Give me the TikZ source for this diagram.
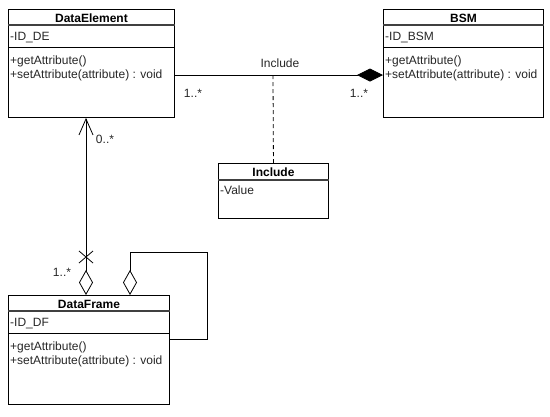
\documentclass[tikz,border=0pt]{standalone}
\usepackage{fontspec}
\setmainfont{Liberation Sans}
\usetikzlibrary{arrows.meta,calc}
\tikzset{odiam/.tip={Diamond[open,length=25pt,width=14pt]},
  fdiam/.tip={Diamond[length=26pt,width=13pt,fill=black]},
  obarb/.tip={Straight Barb[length=16pt,width=14pt]}}
\begin{document}
\begin{tikzpicture}[x=1pt,y=-1pt,
  every node/.style={font=\fontsize{12}{14}\selectfont, inner sep=0pt, text=black!85},
  classbox/.style={draw, line width=0.9pt, anchor=north west},
  ttl/.style={font=\fontsize{12}{14}\selectfont\bfseries, anchor=base, text=black},
  txt/.style={anchor=base west},
  sepa/.style={line width=1.5pt, black!75},
  sepb/.style={line width=0.8pt},
  conn/.style={line width=0.8pt}]
\useasboundingbox (0,0) rectangle (550,416);

% DataElement
\node[classbox, minimum width=166pt, minimum height=108pt] (de) at (8,9) {};
\draw[sepa] ($(de.north west)+(0,16)$) -- ($(de.north east)+(0,16)$);
\draw[sepb] ($(de.north west)+(0,38)$) -- ($(de.north east)+(0,38)$);
\node[ttl] (deT) at ($(de.north)+(0,13)$) {DataElement};
\node[txt] (deA) at ($(de.north west)+(2,31)$) {-ID\_DE};
\node[txt] (deO1) at ($(de.north west)+(2,55)$) {+getAttribute()};
\node[txt] (deO2) at ($(de.north west)+(2,69)$) {+setAttribute(attribute) : void};

% BSM
\node[classbox, minimum width=160pt, minimum height=108pt] (bsm) at (383,9) {};
\draw[sepa] ($(bsm.north west)+(0,16)$) -- ($(bsm.north east)+(0,16)$);
\draw[sepb] ($(bsm.north west)+(0,38)$) -- ($(bsm.north east)+(0,38)$);
\node[ttl] (bsmT) at ($(bsm.north)+(0,13)$) {BSM};
\node[txt] (bsmA) at ($(bsm.north west)+(2,31)$) {-ID\_BSM};
\node[txt] (bsmO1) at ($(bsm.north west)+(2,55)$) {+getAttribute()};
\node[txt] (bsmO2) at ($(bsm.north west)+(2,69)$) {+setAttribute(attribute) : void};

% Include
\node[classbox, minimum width=110pt, minimum height=55pt] (inc) at (218,163) {};
\draw[sepa] ($(inc.north west)+(0,17)$) -- ($(inc.north east)+(0,17)$);
\node[ttl] (incT) at ($(inc.north)+(0,13)$) {Include};
\node[txt] (incA) at ($(inc.north west)+(2,31)$) {-Value};

% DataFrame
\node[classbox, minimum width=161pt, minimum height=109pt] (df) at (8,295) {};
\draw[sepa] ($(df.north west)+(0,16)$) -- ($(df.north east)+(0,16)$);
\draw[sepb] ($(df.north west)+(0,38)$) -- ($(df.north east)+(0,38)$);
\node[ttl] (dfT) at ($(df.north)+(0,13)$) {DataFrame};
\node[txt] (dfA) at ($(df.north west)+(2,31)$) {-ID\_DF};
\node[txt] (dfO1) at ($(df.north west)+(2,55)$) {+getAttribute()};
\node[txt] (dfO2) at ($(df.north west)+(2,69)$) {+setAttribute(attribute) : void};

% DataElement -- BSM composition
\coordinate (a1) at ($(de.north east)+(0,66)$);
\draw[conn, -fdiam] (a1) -- (a1 -| bsm.west);
\node (incl) at (280,63) {Include};
\node (m1) at (193,93) {1..*};
\node (m2) at (359,93) {1..*};
\coordinate (mid) at (273,75);
\draw[conn, dash pattern=on 4pt off 3pt] (mid) -- (inc.north);

% DataFrame -- DataElement
\coordinate (p1) at ($(df.north west)+(78,0)$);
\coordinate (p2) at ($(de.south west)+(78,0)$);
\draw[conn, odiam-obarb] (p1) -- (p2);
\coordinate (xm) at (86,257);
\draw[conn] ($(xm)+(-7,-6)$) -- ($(xm)+(7,6)$) ($(xm)+(-7,6)$) -- ($(xm)+(7,-6)$);
\node (m3) at (105,139) {0..*};
\node (m4) at (62,272) {1..*};

% DataFrame self association
\coordinate (s1) at ($(df.north west)+(122,0)$);
\coordinate (s2) at ($(df.north east)+(0,44)$);
\draw[conn, odiam-] (s1) -- ++(0,-43) -- ++(77,0) |- (s2);
\end{tikzpicture}
\end{document}
